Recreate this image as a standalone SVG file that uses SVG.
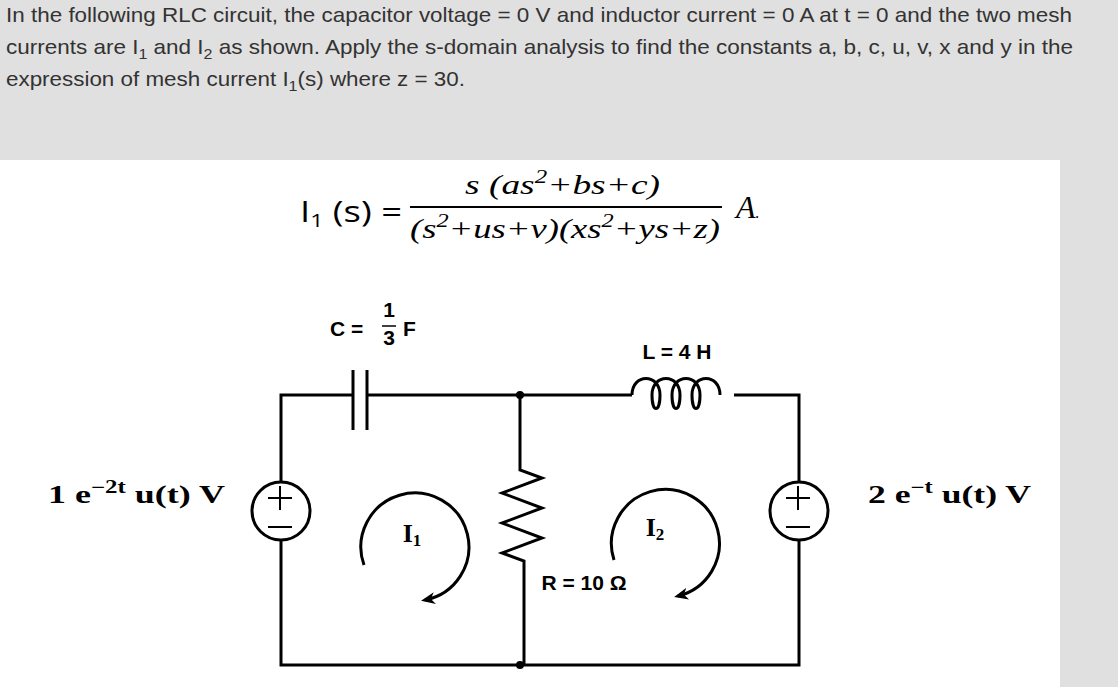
<svg xmlns="http://www.w3.org/2000/svg" width="1118" height="687" viewBox="0 0 1118 687">
<style>
.t{font-family:"Liberation Sans",Arial,sans-serif;font-size:21px;fill:#333}
.w{fill:none;stroke:#000;stroke-width:3}
.m{font-family:"Liberation Serif",serif;font-style:italic;font-size:27px}
.b{font-family:"Liberation Sans",Arial,sans-serif;font-weight:bold;font-size:21px}
.s{font-family:"Liberation Serif",serif;font-weight:bold;font-size:26px}
</style>
<defs><marker id="ah" markerWidth="14" markerHeight="12" refX="10" refY="6" orient="auto" markerUnits="userSpaceOnUse"><path d="M0,0 L14,6 L0,12 L4,6z"/></marker></defs>
<rect width="1118" height="687" fill="#e0e0e0"/>
<rect x="0" y="160" width="1060" height="527" fill="#fff"/>
<g id="question">
<text class="t" x="6" y="22" textLength="1066" lengthAdjust="spacingAndGlyphs">In the following RLC circuit, the capacitor voltage = 0 V and inductor current = 0 A at t = 0 and the two mesh</text>
<text class="t" x="6" y="54" textLength="1067" lengthAdjust="spacingAndGlyphs">currents are I<tspan font-size="15" dy="5">1</tspan><tspan dy="-5"> and I</tspan><tspan font-size="15" dy="5">2</tspan><tspan dy="-5"> as shown. Apply the s-domain analysis to find the constants a, b, c, u, v, x and y in the</tspan></text>
<text class="t" x="6" y="86" textLength="459" lengthAdjust="spacingAndGlyphs">expression of mesh current I<tspan font-size="15" dy="5">1</tspan><tspan dy="-5">(s) where z = 30.</tspan></text>
</g>
<g id="formula">
<text x="300" y="222" font-family="Open Sans,sans-serif" font-size="30" textLength="102" lengthAdjust="spacingAndGlyphs">I<tspan font-size="19" dy="5">1</tspan><tspan dy="-5"> (s) =</tspan></text>
<text class="m" x="465" y="194" textLength="195" lengthAdjust="spacingAndGlyphs">s (as<tspan font-size="18" dy="-11">2</tspan><tspan dy="11">+bs+c)</tspan></text>
<line x1="410" y1="207" x2="722" y2="207" stroke="#000" stroke-width="2"/>
<text class="m" x="410" y="238" textLength="310" lengthAdjust="spacingAndGlyphs">(s<tspan font-size="18" dy="-11">2</tspan><tspan dy="11">+us+v)(xs</tspan><tspan font-size="18" dy="-11">2</tspan><tspan dy="11">+ys+z)</tspan></text>
<text x="736" y="218" font-family="Liberation Serif,serif" font-style="italic" font-size="32">A<tspan font-size="16">.</tspan></text>
</g>
<g id="connectors">
<path class="w" d="M281,482 V395 H353 M367,395 H632 M734,395 H799 V482 M799,540 V665 H281 V540"/>
<path class="w" d="M520,395 V470 l22,8 -40,15 40,15 -40,15 40,15 -40,15 22,8 V665"/>
<circle cx="520" cy="395" r="4"/><circle cx="520" cy="665" r="4"/>
</g>
<g id="capacitor"><path class="w" d="M353,370 V430 M367,370 V430"/>
<text class="b" x="330" y="336">C =</text><text class="b" x="389" y="317" text-anchor="middle" font-size="18">1</text><line x1="382" y1="326" x2="396" y2="326" stroke="#000" stroke-width="1.5"/><text class="b" x="389" y="345" text-anchor="middle" font-size="18">3</text><text class="b" x="403" y="336">F</text></g>
<g id="inductor"><path class="w" stroke-linejoin="round" d="M632,395 c0,-22 28,-22 28,0 c0,18 -8,18 -8,0 c0,-22 28,-22 28,0 c0,18 -8,18 -8,0 c0,-22 28,-22 28,0 c0,18 -8,18 -8,0 c0,-22 28,-22 28,0"/>
<text class="b" x="677" y="359" text-anchor="middle">L = 4 H</text></g>
<g id="resistor"><text class="b" x="584" y="590" text-anchor="middle">R = 10 Ω</text></g>
<g id="source1"><circle class="w" cx="281" cy="511" r="29" fill="#fff"/><path d="M268,498 h24 M280,486 v24 M268,527 h24" stroke="#000" stroke-width="2"/>
<text class="s" x="48" y="503" textLength="177" lengthAdjust="spacingAndGlyphs">1 e<tspan font-size="18" dy="-10">−2t</tspan><tspan dy="10"> u(t) V</tspan></text></g>
<g id="source2"><circle class="w" cx="799" cy="511" r="29" fill="#fff"/><path d="M786,498 h24 M798,486 v24 M786,527 h24" stroke="#000" stroke-width="2"/>
<text class="s" x="868" y="503" textLength="163" lengthAdjust="spacingAndGlyphs">2 e<tspan font-size="18" dy="-10">−t</tspan><tspan dy="10"> u(t) V</tspan></text></g>
<g id="mesh1"><path class="w" d="M364,565 A54,54 0 1 1 425,600" marker-end="url(#ah)"/><text class="s" x="412" y="542" text-anchor="middle">I<tspan font-size="17" dy="4">1</tspan></text></g>
<g id="mesh2"><path class="w" d="M614,560 A54,54 0 1 1 678,596" marker-end="url(#ah)"/><text class="s" x="655" y="536" text-anchor="middle">I<tspan font-size="17" dy="4">2</tspan></text></g>
</svg>
